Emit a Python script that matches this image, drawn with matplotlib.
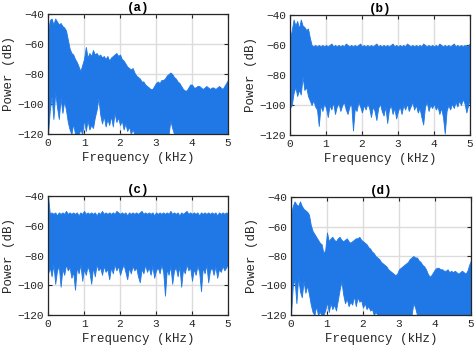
import matplotlib
matplotlib.use('Agg')
import matplotlib.pyplot as plt
import numpy as np
from matplotlib.ticker import MultipleLocator

# frequency grid (kHz), 0.05 kHz step
freq = np.arange(101) * 0.05

# (a) upper / lower envelope of the spectrum (dB)
a_up = [-52, -44, -43, -47, -43, -45, -47, -46, -48, -49,
        -51, -57, -63, -66, -67, -70, -72, -75, -78, -74,
        -70, -62, -69, -66, -68, -64, -67, -66, -68, -67,
        -69, -68, -70, -68, -71, -69, -68, -67, -66, -68,
        -67, -70, -71, -73, -75, -76, -77, -76, -79, -81,
        -82, -83, -85, -85, -87, -88, -89, -90, -90, -88,
        -86, -85, -86, -84, -84, -83, -81, -80, -79, -80,
        -82, -83, -85, -86, -88, -90, -91, -91, -89, -87,
        -87, -89, -89, -88, -88, -89, -90, -89, -88, -89,
        -90, -89, -89, -90, -89, -88, -89, -90, -88, -86,
        -84]
a_lo = ([-120, -104, -95, -110, -92, -102, -110, -96, -106, -98,
         -104, -112, -117, -120, -113, -120, -120, -120, -117, -120,
         -110, -118, -111, -117, -114, -116, -109, -104, -96, -107,
         -113, -108, -115, -110, -114, -108, -115, -106, -112, -109,
         -114, -111, -117, -113, -118, -115, -120, -117]
        + [-120] * 20 + [-111, -116] + [-120] * 31)

# (b)
b_up = [-56, -50, -43, -47, -44, -49, -43, -47, -48, -50,
        -49, -55, -60, -61, -60, -61, -60, -61, -60, -61,
        -60, -61, -60, -59, -61, -60, -61, -60, -61, -60,
        -61, -59, -60, -61, -60, -61, -60, -61, -60, -59,
        -61, -60, -61, -60, -61, -60, -61, -60, -59, -61,
        -60, -61, -60, -61, -60, -61, -60, -59, -61, -60,
        -61, -60, -61, -60, -61, -59, -60, -61, -60, -61,
        -60, -61, -60, -61, -59, -60, -61, -60, -61, -60,
        -61, -60, -61, -59, -60, -61, -60, -61, -60, -61,
        -60, -59, -61, -60, -61, -60, -61, -60, -61, -60,
        -59]
b_lo = [-102, -100, -92, -88, -94, -90, -93, -81, -90, -88,
        -94, -97, -100, -97, -101, -103, -114, -100, -104, -99,
        -102, -108, -100, -103, -98, -106, -101, -99, -104, -100,
        -98, -103, -106, -101, -99, -117, -102, -104, -98, -101,
        -105, -100, -103, -99, -102, -108, -101, -104, -110, -102,
        -99, -104, -107, -101, -112, -103, -100, -106, -102, -109,
        -104, -101, -106, -100, -103, -99, -104, -101, -98, -103,
        -100, -105, -102, -108, -113, -101, -98, -104, -100, -102,
        -99, -103, -101, -106, -102, -108, -119, -104, -100, -103,
        -99, -102, -98, -101, -97, -100, -96, -99, -105, -100,
        -96]

# (c)
c_up = [-40, -52, -51, -52, -51, -53, -51, -52, -51, -52,
        -50, -52, -51, -52, -51, -52, -51, -53, -51, -52,
        -50, -52, -51, -52, -51, -52, -51, -53, -51, -52,
        -50, -52, -51, -52, -51, -52, -51, -52, -50, -51,
        -52, -51, -52, -51, -53, -51, -52, -51, -52, -51,
        -52, -51, -50, -52, -51, -52, -51, -52, -51, -53,
        -51, -52, -51, -52, -51, -52, -51, -52, -50, -52,
        -51, -52, -51, -53, -51, -52, -51, -50, -52, -51,
        -52, -51, -52, -51, -53, -51, -52, -51, -52, -51,
        -52, -51, -52, -51, -53, -51, -52, -51, -52, -51,
        -52]
c_lo = [-92, -88, -94, -86, -99, -90, -87, -101, -89, -93,
        -86, -90, -88, -95, -91, -103, -88, -92, -86, -97,
        -89, -93, -87, -91, -99, -88, -94, -86, -90, -88,
        -93, -87, -91, -89, -96, -88, -92, -86, -90, -87,
        -93, -89, -86, -91, -96, -88, -92, -87, -90, -88,
        -94, -98, -89, -92, -86, -91, -88, -93, -87, -95,
        -90, -88, -92, -86, -91, -107, -89, -93, -87, -99,
        -90, -88, -94, -87, -101, -89, -92, -86, -90, -88,
        -97, -89, -93, -87, -91, -104, -88, -92, -86, -98,
        -90, -88, -93, -87, -95, -89, -91, -87, -90, -88,
        -86]

# (d)
d_up = [-52, -46, -43, -45, -46, -43, -46, -48, -49, -50,
        -52, -59, -63, -65, -67, -69, -71, -72, -78, -76,
        -64, -70, -68, -67, -69, -70, -68, -67, -69, -70,
        -69, -68, -70, -71, -70, -69, -68, -68, -67, -69,
        -70, -71, -72, -74, -75, -77, -78, -80, -81, -82,
        -84, -85, -86, -87, -89, -90, -91, -92, -93, -92,
        -89, -88, -87, -86, -85, -84, -82, -81, -80, -81,
        -81, -83, -84, -86, -87, -89, -92, -94, -93, -91,
        -89, -88, -88, -89, -89, -90, -90, -89, -91, -90,
        -91, -90, -91, -92, -91, -90, -91, -92, -90, -86,
        -83]
d_lo = ([-120, -100, -96, -112, -94, -104, -108, -97, -105, -100,
         -106, -113, -118, -120, -114, -120, -118, -120, -120, -117,
         -111, -118, -112, -116, -113, -117, -110, -103, -97, -106,
         -112, -109, -114, -111, -113, -107, -114, -108, -111, -110,
         -115, -112, -116, -114, -117, -116, -120, -118]
        + [-120] * 20 + [-112, -115] + [-120] * 31)

panels = [('(a)', a_up, a_lo), ('(b)', b_up, b_lo),
          ('(c)', c_up, c_lo), ('(d)', d_up, d_lo)]
positions = [[0.1013, 0.6236, 0.3797, 0.3371],
             [0.6118, 0.6208, 0.3797, 0.3371],
             [0.1013, 0.1152, 0.3797, 0.3342],
             [0.6139, 0.1152, 0.3797, 0.3314]]

blue = '#1f78e6'
dark = '#262626'

plt.rcParams['font.family'] = ['Liberation Mono', 'DejaVu Sans Mono']

fig = plt.figure(figsize=(4.74, 3.56), dpi=100)

for (title, up, lo), pos in zip(panels, positions):
    ax = fig.add_axes(pos)
    ax.fill_between(freq, lo, up, facecolor=blue, edgecolor=blue,
                    linewidth=0.6, zorder=2)
    ax.set_xlim(0, 5)
    ax.set_ylim(-120, -40)
    ax.xaxis.set_major_locator(MultipleLocator(1))
    ax.yaxis.set_major_locator(MultipleLocator(20))
    ax.grid(True, color='#dcdcdc', linewidth=1.0, zorder=0)
    ax.set_axisbelow(True)
    ax.tick_params(direction='in', top=True, right=True, length=3,
                   width=0.8, labelsize=8, colors=dark, pad=3)
    for s in ax.spines.values():
        s.set_color(dark)
        s.set_linewidth(0.9)
        s.set_zorder(5)
    ax.set_xlabel('Frequency (kHz)', fontsize=9, color=dark, labelpad=3)
    ax.set_ylabel('Power (dB)', fontsize=9, color=dark, labelpad=2)
    ax.set_title(title, fontsize=9, fontweight='bold', color='black', pad=2)

fig.savefig('out.png', dpi=100)
